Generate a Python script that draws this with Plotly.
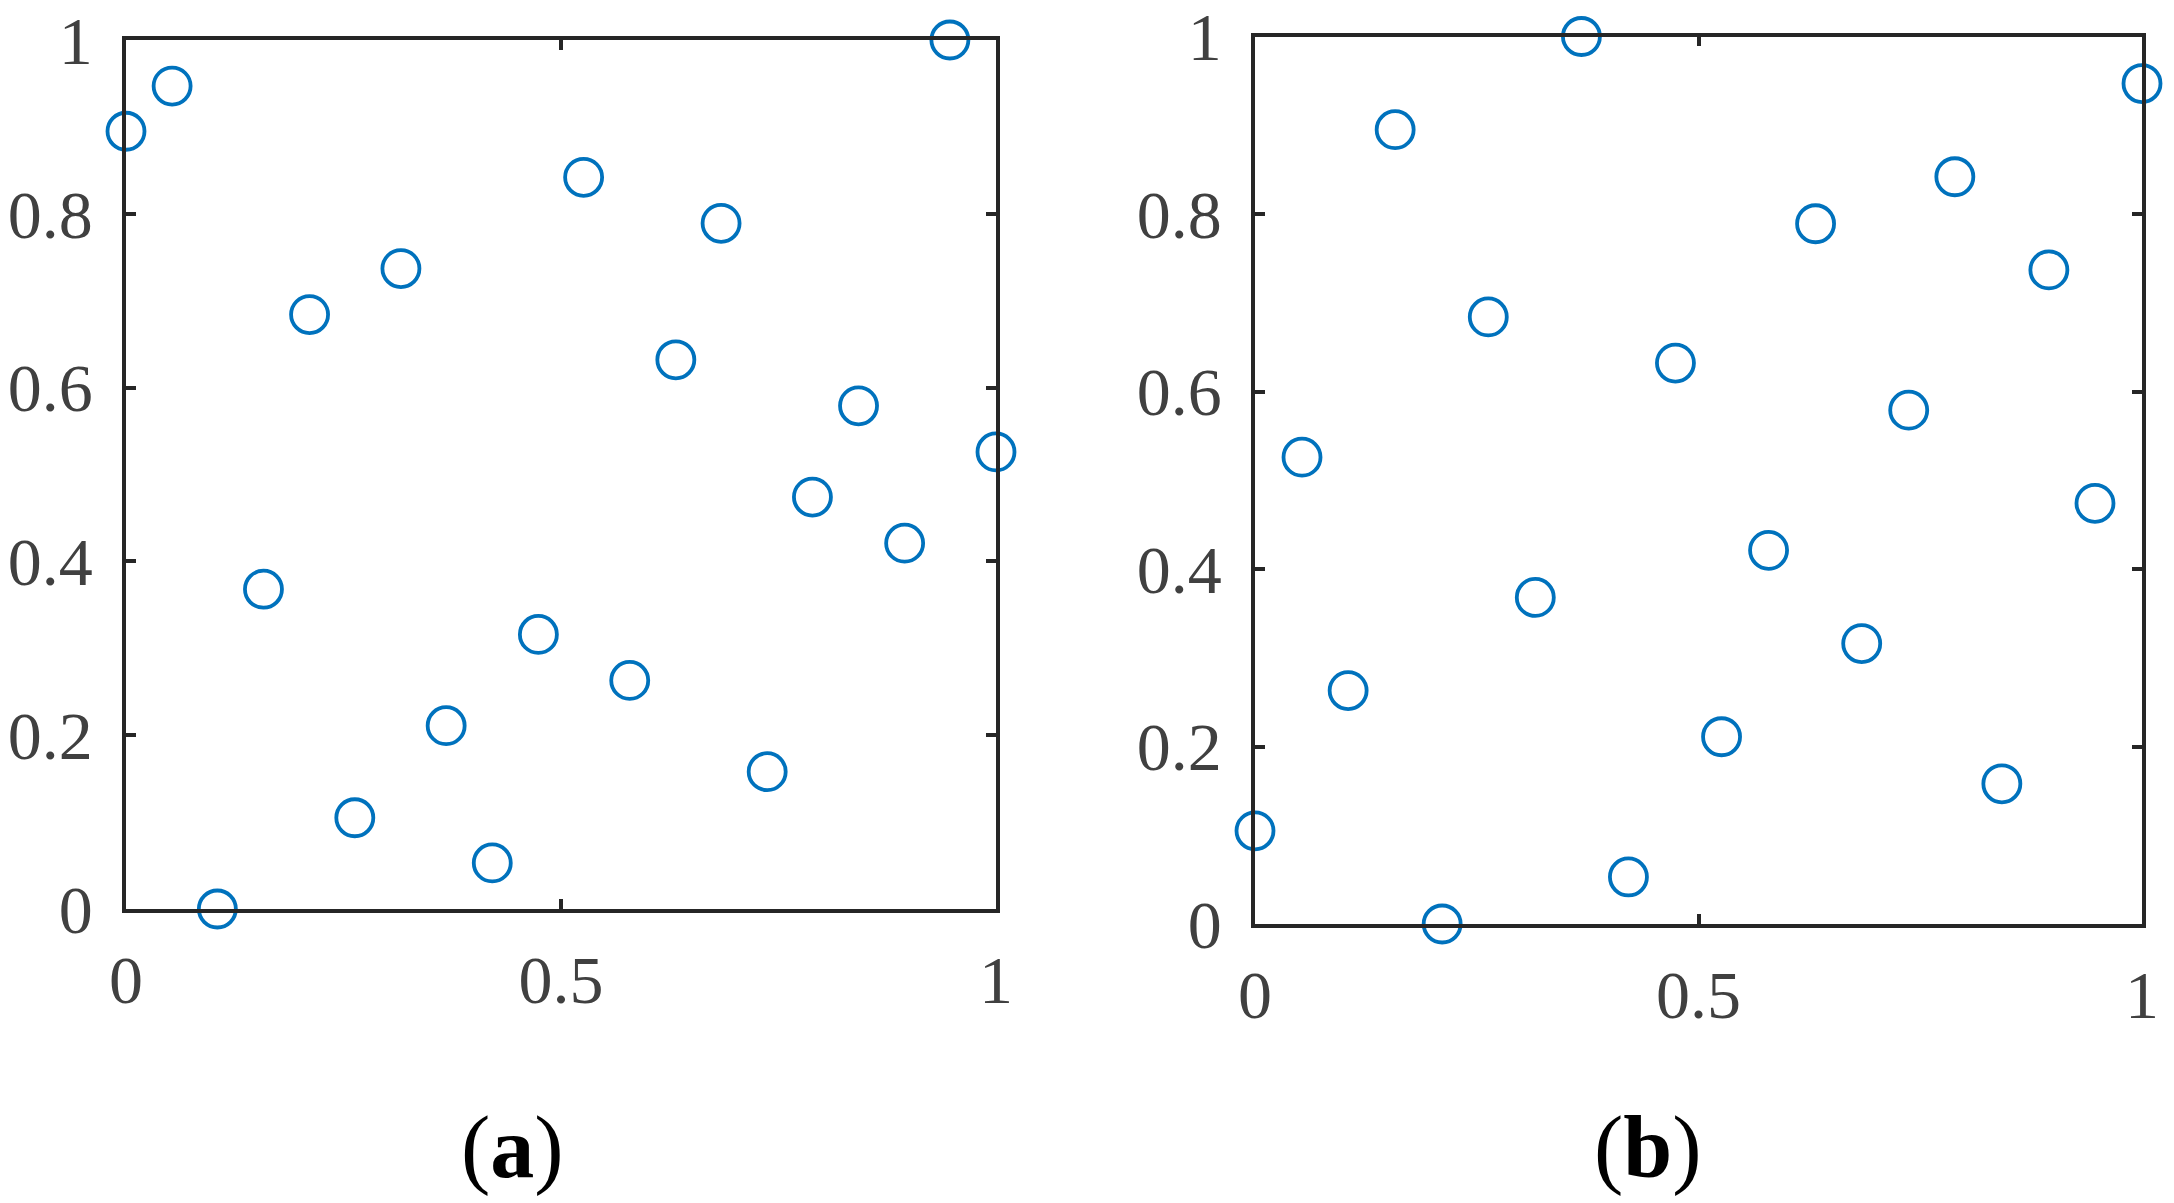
import plotly.graph_objects as go

# Sample coordinates
x_a = [0.0, 0.053, 0.105, 0.158, 0.211, 0.263, 0.316, 0.368, 0.421, 0.474,
       0.526, 0.579, 0.632, 0.684, 0.737, 0.789, 0.842, 0.895, 0.947, 1.0]
y_a = [0.895, 0.947, 0.0, 0.368, 0.684, 0.105, 0.737, 0.211, 0.053, 0.316,
       0.842, 0.263, 0.632, 0.789, 0.158, 0.474, 0.579, 0.421, 1.0, 0.526]

x_b = [0.0, 0.053, 0.105, 0.158, 0.211, 0.263, 0.316, 0.368, 0.421, 0.474,
       0.526, 0.579, 0.632, 0.684, 0.737, 0.789, 0.842, 0.895, 0.947, 1.0]
y_b = [0.105, 0.526, 0.263, 0.895, 0.0, 0.684, 0.368, 1.0, 0.053, 0.632,
       0.211, 0.421, 0.789, 0.316, 0.579, 0.842, 0.158, 0.737, 0.474, 0.947]

x_ticks = [0, 0.5, 1]
x_ticklabels = ["0", "0.5", "1"]
y_ticks = [0, 0.2, 0.4, 0.6, 0.8, 1]
y_ticklabels = ["0", "0.2", "0.4", "0.6", "0.8", "1"]
panel_labels = ["(<b>a</b>)", "(<b>b</b>)"]

# page body has an 8px default margin; size the figure to fit the window
OFF = 8
W, H = 2174 - OFF, 1203 - OFF
FONT = "Liberation Serif"
MARKER_COLOR = "#0072BD"
LINE_COLOR = "#262626"
TEXT_COLOR = "#404040"


def px_x(p):
    return (p - OFF) / W


def px_y(p):
    return (H - (p - OFF)) / H


fig = go.Figure()
marker = dict(symbol="circle-open", size=37, color=MARKER_COLOR,
              line=dict(width=3.8, color=MARKER_COLOR))
fig.add_trace(go.Scatter(x=x_a, y=y_a, mode="markers", marker=marker,
                         xaxis="x", yaxis="y", cliponaxis=False, showlegend=False))
fig.add_trace(go.Scatter(x=x_b, y=y_b, mode="markers", marker=marker,
                         xaxis="x2", yaxis="y2", cliponaxis=False, showlegend=False))


def ax_common():
    return dict(range=[0, 1], showgrid=False, zeroline=False, automargin=False,
                showline=True, linecolor=LINE_COLOR, linewidth=3.5,
                mirror="ticks", ticks="inside", ticklen=10, tickwidth=3.5,
                tickcolor=LINE_COLOR, ticklabeloverflow="allow",
                tickfont=dict(family=FONT, size=68, color=TEXT_COLOR))


xa = ax_common(); xa.update(domain=[px_x(126), px_x(996)], tickvals=x_ticks,
                            ticktext=x_ticklabels, anchor="y", ticklabelstandoff=9)
ya = ax_common(); ya.update(domain=[px_y(909), px_y(40)], tickvals=y_ticks,
                            ticktext=y_ticklabels, anchor="x", ticklabelstandoff=16)
xb = ax_common(); xb.update(domain=[px_x(1255), px_x(2142)], tickvals=x_ticks,
                            ticktext=x_ticklabels, anchor="y2", ticklabelstandoff=9)
yb = ax_common(); yb.update(domain=[px_y(924), px_y(36.5)], tickvals=y_ticks,
                            ticktext=y_ticklabels, anchor="x2", ticklabelstandoff=16)

fig.update_layout(
    width=W, height=H,
    margin=dict(l=0, r=0, t=0, b=0, autoexpand=False),
    paper_bgcolor="white", plot_bgcolor="white",
    xaxis=xa, yaxis=ya, xaxis2=xb, yaxis2=yb,
    annotations=[
        dict(text=panel_labels[0], x=px_x(512), y=px_y(1147), xref="paper", yref="paper",
             xanchor="center", yanchor="middle", showarrow=False,
             font=dict(family=FONT, size=88, color="black")),
        dict(text=panel_labels[1], x=px_x(1648), y=px_y(1147), xref="paper", yref="paper",
             xanchor="center", yanchor="middle", showarrow=False,
             font=dict(family=FONT, size=88, color="black")),
    ],
)

fig.write_html("out.html")
